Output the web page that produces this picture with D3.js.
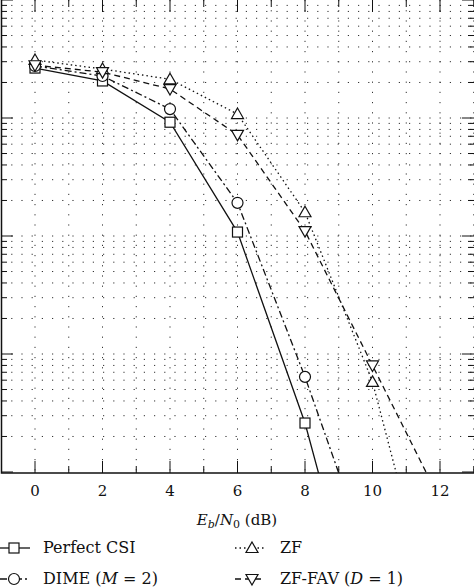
<!DOCTYPE html>
<html><head><meta charset="utf-8">
<script src="https://cdn.jsdelivr.net/npm/d3@7"></script>
<style>body{margin:0;background:#fff}</style>
</head><body><svg id="c" width="474" height="588" font-family="DejaVu Serif"></svg>
<script>
// E_b/N_0 (dB) and BER
const snr = [0, 2, 4, 6, 8, 10, 12];
const perfectCSI = [0.265, 0.206, 0.0921, 0.0108, 2.6e-4, 2e-6];
const dime = [0.276, 0.227, 0.119, 0.0191, 6.4e-4, 1.5e-5];
const zf = [0.31, 0.26, 0.213, 0.108, 0.0159, 5.8e-4, 3.7e-6];
const zfFav = [0.28, 0.245, 0.176, 0.072, 0.011, 8e-4, 5.8e-5];
const xTicks = [0, 2, 4, 6, 8, 10, 12];

var svg = d3.select("#c");
var x = d3.scaleLinear().domain([0, 12]).range([35, 440]);
var y = d3.scaleLog().domain([1e-4, 1]).range([472, 0]);

var plot = svg.append("g");
svg.append("clipPath").attr("id", "clip").append("rect")
  .attr("x", 1).attr("y", 0).attr("width", 473).attr("height", 473);

// grid
var gx = d3.range(-1, 14);
plot.selectAll(".vg").data(gx.filter(d => x(d) > 2)).enter().append("line")
  .attr("x1", d => x(d)).attr("x2", d => x(d)).attr("y1", 0).attr("y2", 473)
  .attr("stroke", "#333").attr("stroke-width", 1).attr("stroke-dasharray", "1.2,9");
var gy = [];
for (var e = -4; e < 0; e++) for (var m = 1; m < 10; m++) gy.push(m * Math.pow(10, e));
plot.selectAll(".hg").data(gy.filter(d => y(d) > 1 && y(d) < 471)).enter().append("line")
  .attr("x1", 1).attr("x2", 474).attr("y1", d => y(d)).attr("y2", d => y(d))
  .attr("stroke", "#333").attr("stroke-width", 1).attr("stroke-dasharray", "1.2,9");

// ticks
plot.selectAll(".xt").data(gx.filter(d => x(d) > 2)).enter().append("line")
  .attr("x1", d => x(d)).attr("x2", d => x(d))
  .attr("y1", d => d % 2 === 0 ? 461 : 466).attr("y2", 473).attr("stroke", "#111");
plot.selectAll(".xtt").data(gx.filter(d => x(d) > 2)).enter().append("line")
  .attr("x1", d => x(d)).attr("x2", d => x(d))
  .attr("y1", 0).attr("y2", d => d % 2 === 0 ? 12 : 7).attr("stroke", "#111");
var isMajor = d => Math.abs(Math.log10(d) - Math.round(Math.log10(d))) < 1e-6;
plot.selectAll(".yt").data(gy.concat([1])).enter().append("line")
  .attr("x1", 1).attr("x2", d => isMajor(d) ? 13 : 7)
  .attr("y1", d => y(d)).attr("y2", d => y(d)).attr("stroke", "#111");
plot.selectAll(".yt2").data(gy.concat([1])).enter().append("line")
  .attr("x2", 474).attr("x1", d => isMajor(d) ? 462 : 468)
  .attr("y1", d => y(d)).attr("y2", d => y(d)).attr("stroke", "#111");

// frame
svg.append("path").attr("d", "M1.5,0V473H474").attr("fill", "none").attr("stroke", "#111").attr("stroke-width", 1.5);

svg.selectAll(".xl").data(xTicks).enter().append("text")
  .attr("x", d => x(d)).attr("y", 496).attr("text-anchor", "middle").attr("font-size", 15).attr("fill", "#111").text(d => d);
var xl = svg.append("text").attr("x", 237).attr("y", 525).attr("text-anchor", "middle").attr("font-size", 15).attr("fill", "#111");
xl.append("tspan").attr("font-style", "italic").text("E");
xl.append("tspan").attr("font-style", "italic").attr("font-size", 11).attr("dy", 3).text("b");
xl.append("tspan").attr("dy", -3).text("/");
xl.append("tspan").attr("font-style", "italic").text("N");
xl.append("tspan").attr("font-size", 11).attr("dy", 3).text("0");
xl.append("tspan").attr("dy", -3).text(" (dB)");

var series = [
  {v: perfectCSI, dash: null, sym: "sq"},
  {v: dime, dash: "7,3,2,3", sym: "ci"},
  {v: zf, dash: "1.5,3", sym: "up"},
  {v: zfFav, dash: "6,4", sym: "dn"}
];
function marker(g, s, cx, cy) {
  var p;
  if (s === "sq") p = g.append("rect").attr("x", cx - 5).attr("y", cy - 5).attr("width", 10).attr("height", 10);
  else if (s === "ci") p = g.append("circle").attr("cx", cx).attr("cy", cy).attr("r", 5.5);
  else if (s === "up") p = g.append("path").attr("d", `M${cx},${cy - 6}L${cx + 6},${cy + 4.5}L${cx - 6},${cy + 4.5}Z`);
  else p = g.append("path").attr("d", `M${cx},${cy + 6}L${cx + 6},${cy - 4.5}L${cx - 6},${cy - 4.5}Z`);
  p.attr("fill", "#fff").attr("stroke", "#111").attr("stroke-width", 1.2);
}
var line = d3.line().x((d, i) => x(snr[i])).y(d => y(d));
var cg = svg.append("g").attr("clip-path", "url(#clip)");
series.forEach(function (s) {
  cg.append("path").attr("d", line(s.v)).attr("fill", "none").attr("stroke", "#111")
    .attr("stroke-width", 1.3).attr("stroke-dasharray", s.dash);
});
series.forEach(function (s) {
  s.v.forEach(function (d, i) { if (y(d) < 468) marker(cg, s.sym, x(snr[i]), y(d)); });
});

// legend
var leg = [
  {t: ["Perfect CSI"], s: series[0], lx: 0, ly: 553},
  {t: ["DIME (", "M", " = 2)"], s: series[1], lx: 0, ly: 584},
  {t: ["ZF"], s: series[2], lx: 235, ly: 553},
  {t: ["ZF-FAV (", "D", " = 1)"], s: series[3], lx: 235, ly: 584}
];
leg.forEach(function (l) {
  svg.append("line").attr("x1", l.lx).attr("x2", l.lx + 30).attr("y1", l.ly - 5).attr("y2", l.ly - 5)
    .attr("stroke", "#111").attr("stroke-width", 1.3).attr("stroke-dasharray", l.s.dash);
  marker(svg, l.s.sym, l.lx === 0 ? 14 : 252, l.ly - 5);
  var t = svg.append("text").attr("x", l.lx === 0 ? 43 : 280).attr("y", l.ly).attr("font-size", 16).attr("fill", "#111");
  l.t.forEach((p, i) => t.append("tspan").attr("font-style", i === 1 ? "italic" : null).text(p));
});
</script></body></html>
